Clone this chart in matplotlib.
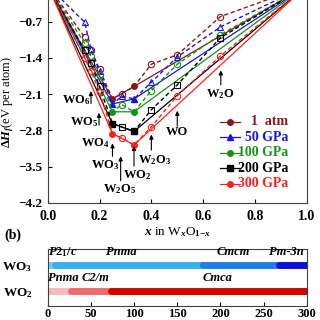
import numpy as np
import matplotlib
matplotlib.use('Agg')
import matplotlib.pyplot as plt

plt.rcParams['font.family'] = 'Liberation Serif'
plt.rcParams['font.weight'] = 'bold'
plt.rcParams['mathtext.fontset'] = 'custom'
plt.rcParams['mathtext.rm'] = 'Liberation Serif:bold'
plt.rcParams['mathtext.it'] = 'Liberation Serif:bold:italic'
plt.rcParams['mathtext.bf'] = 'Liberation Serif:bold'

# x in WxO1-x : O, WO6, WO5, WO4, WO3, W2O5, WO2, W2O3, WO, W2O, W
comp = [0, 1/7, 1/6, 1/5, 1/4, 2/7, 1/3, 2/5, 1/2, 2/3, 1]
hull_idx = [0, 4, 6, 10]      # O, WO3, WO2, W
open_idx = [1, 2, 3, 5, 7, 8, 9]

dH_1atm = [0, -1.00, -1.25, -1.62, -2.19, -2.09, -1.95, -1.52, -1.34, -0.60, 0]
dH_50 = [0, -0.71, -1.23, -1.65, -2.29, -2.14, -2.19, -1.87, -1.38, -0.80, 0]
dH_100 = [0, -1.12, -1.36, -1.72, -2.44, -2.30, -2.44, -2.03, -1.52, -0.95, 0]
dH_200 = [0, -1.25, -1.50, -1.95, -2.67, -2.73, -2.82, -2.40, -1.92, -1.01, 0]
dH_300 = [0, -1.40, -1.65, -2.05, -2.86, -2.95, -3.08, -2.73, -2.13, -1.36, 0]

series = [dH_1atm, dH_50, dH_100, dH_200, dH_300]
labels = ['1  atm', '50 GPa', '100 GPa', '200 GPa', '300 GPa']
colors = ['#8E1616', '#1515E8', '#169216', '#000000', '#FF1E1E']
markers = ['o', '^', 'o', 's', 'o']

# arrow annotations: name, arrow x, arrow tail y, arrow head y, text x, text y
notes = [
    (r'WO$_6$', 0.167, -2.28, -2.04, 0.109, -2.21),
    (r'WO$_5$', 0.198, -2.70, -2.46, 0.140, -2.63),
    (r'WO$_4$', 0.250, -3.30, -3.05, 0.182, -3.05),
    (r'WO$_3$', None, None, None, 0.221, -3.47),
    (r'W$_2$O$_5$', 0.2815, -3.77, -3.30, 0.279, -3.93),
    (r'WO$_2$', 0.333, -3.49, -3.10, 0.344, -3.66),
    (r'W$_2$O$_3$', 0.400, -3.18, -2.88, 0.414, -3.37),
    (r'WO', 0.500, -2.72, -2.42, 0.499, -2.84),
    (r'W$_2$O', 0.668, -1.92, -1.64, 0.664, -2.09),
]

# panel (b): phase sequences vs pressure (GPa)
wo3_bounds = [0, 8, 180, 268, 300]
wo3_colors = ['#5FD4F8', '#37B0F0', '#1E80E2', '#0A12D6']
wo3_names = [r'$P2_1/c$', 'Pnma', 'Cmcm', 'Pm-3n']
wo3_name_x = [0, 85, 215, 276]
wo2_bounds = [0, 27, 73, 300]
wo2_colors = ['#F6BABA', '#EE6C6C', '#D30000']
wo2_names = ['Pnma', 'C2/m', 'Cmca']
wo2_name_x = [0, 55, 196]

fig = plt.figure(figsize=(3.2, 3.2), dpi=100)
ax = fig.add_axes([0.149, 0.366, 0.810, 0.634])

for dh, lab, c, m in zip(series, labels, colors, markers):
    dh = np.array(dh)
    cx = np.array(comp)
    ax.plot(cx, dh, ls=(0, (3, 2)), color=c, lw=1.0)
    ax.plot(cx[open_idx], dh[open_idx], ls='none', marker=m, ms=4.5,
            mfc='none', mec=c, mew=0.8)
    ax.plot(cx[hull_idx], dh[hull_idx], '-', color=c, lw=0.9)
    ax.plot(cx[[4, 6]], dh[[4, 6]], ls='none', marker=m, ms=4, color=c)

for name, axx, y0, y1, tx, ty in notes:
    if axx is not None:
        ax.annotate('', xy=(axx, y1), xytext=(axx, y0),
                    arrowprops=dict(arrowstyle='-|>', color='black', lw=0.8,
                                    mutation_scale=6, shrinkA=0, shrinkB=0))
    ax.text(tx, ty, name, fontsize=9, ha='center', va='center')

# legend drawn by hand so the text is right aligned
for i, (lab, c, m) in enumerate(zip(labels, colors, markers)):
    yy = 0.399 - i * 0.076
    ax.plot([0.664, 0.741], [yy, yy], color=c, lw=0.9, transform=ax.transAxes)
    ax.plot([0.703], [yy], marker=m, ms=4, color=c, transform=ax.transAxes)
    ax.text(0.927, yy, lab, color=c, fontsize=10, ha='right', va='center',
            transform=ax.transAxes)

ax.set_xlim(0, 1.0)
ax.set_ylim(-4.2, -0.28)
ax.set_xticks(np.arange(0, 1.01, 0.2))
ax.set_yticks([-4.2, -3.5, -2.8, -2.1, -1.4, -0.7])
ax.xaxis.set_major_formatter(matplotlib.ticker.FormatStrFormatter('%.1f'))
ax.tick_params(direction='in', length=3, width=0.8, labelsize=10)
ax.tick_params(axis='x', pad=5)
ax.tick_params(axis='y', pad=4, labelsize=9.5)
ax.spines['top'].set_visible(False)
for s in ax.spines.values():
    s.set_color('#404040')
    s.set_linewidth(0.8)
ax.set_xlabel(r'$x$ in W$_x$O$_{1\mathrm{-}x}$', fontsize=9.5, labelpad=2)
ax.set_ylabel(r'$\Delta H_f$(eV per atom)', fontsize=9, labelpad=1)

# panel (b)
bx = fig.add_axes([0.149, 0.045, 0.810, 0.177])
for bounds, cols, yy in [(wo3_bounds, wo3_colors, 0.72), (wo2_bounds, wo2_colors, 0.25)]:
    for j, c in enumerate(cols):
        bx.plot([bounds[j], bounds[j + 1]], [yy, yy], color=c, lw=5,
                solid_capstyle='round')
for name, px in zip(wo3_names, wo3_name_x):
    bx.text(px, 0.94, name, fontsize=9, style='italic', ha='left' if px == 0 else 'center',
            va='center')
for name, px in zip(wo2_names, wo2_name_x):
    bx.text(px, 0.49, name, fontsize=9, style='italic', ha='left' if px == 0 else 'center',
            va='center')
bx.set_xlim(0, 300)
bx.set_ylim(0, 1)
bx.set_xticks(np.arange(0, 301, 50))
bx.set_yticks([0.72, 0.25])
bx.set_yticklabels([r'WO$_3$', r'WO$_2$'], fontsize=9.5)
bx.tick_params(axis='y', length=0, pad=11)
bx.tick_params(axis='x', direction='in', length=3, width=0.8, labelsize=9, pad=1.5)
for s in bx.spines.values():
    s.set_color('#404040')
    s.set_linewidth(0.8)

fig.text(0.015, 0.266, '(b)', fontsize=10, va='center')

fig.savefig('out.png', dpi=100)
